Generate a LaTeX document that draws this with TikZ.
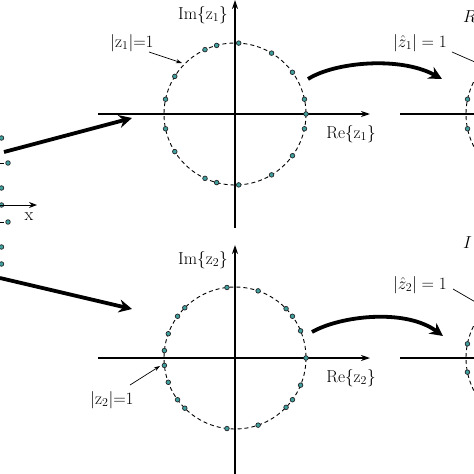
\documentclass[tikz,border=0pt]{standalone}
\usetikzlibrary{arrows.meta,calc}
\begin{document}
\begin{tikzpicture}[x=1pt,y=-1pt,
  axis/.style={line width=1.3pt,-{Stealth[length=9pt,width=6pt]}},
  plainaxis/.style={line width=1.3pt},
  unitc/.style={line width=0.9pt,dash pattern=on 4pt off 3pt},
  sig/.style={circle,draw=black!85,fill=teal!75,line width=0.7pt,inner sep=0pt,minimum size=4.6pt},
  bigarrow/.style={line width=3.8pt,-{Stealth[length=13pt,width=13pt]}},
  pointer/.style={line width=0.7pt,-{Stealth[length=6pt,width=4pt]}},
  plainpointer/.style={line width=0.7pt},
  lbl/.style={font=\fontsize{18}{21}\selectfont,inner sep=0pt}]
\useasboundingbox[fill=white] (0,0) rectangle (474,474);

% ---------- top plane ----------
\coordinate (c1) at (235,114);
\coordinate (h1s) at (98,114);  \coordinate (h1e) at (370,114);
\coordinate (v1s) at (235,228); \coordinate (v1e) at (235,0);
\draw[axis] (h1s) -- (h1e);
\draw[axis] (v1s) -- (v1e);
\draw[unitc] (c1) circle[radius=71];
\foreach \a [count=\i] in {0,12,36,59,87,105,115,148,168,-12,-36,-59,-87,-105,-115,-148,-168}
  \node[sig] (p1\i) at ($(c1)+(\a:71)$) {};
\node[lbl] (im1) at (203,15) {$\mathrm{Im}\{\mathrm{z}_1\}$};
\node[lbl] (re1) at (351,134) {$\mathrm{Re}\{\mathrm{z}_1\}$};
\node[lbl] (u1) at (132,43) {$|\mathrm{z}_1|{=}1$};
\coordinate (u1s) at (149,52);
\coordinate (u1t) at (182,63);
\draw[pointer] (u1s) -- (u1t);

% ---------- bottom plane ----------
\coordinate (c2) at (235,358);
\coordinate (h2s) at (98,358);  \coordinate (h2e) at (370,358);
\coordinate (v2s) at (235,474); \coordinate (v2e) at (235,245);
\draw[axis] (h2s) -- (h2e);
\draw[axis] (v2s) -- (v2e);
\draw[unitc] (c2) circle[radius=71];
\foreach \a [count=\i] in {0,22.5,36,44,71,96.5,135,144,160,174,-22.5,-36,-44,-71,-96.5,-135,-144,-160,-174}
  \node[sig] (p2\i) at ($(c2)+(\a:71)$) {};
\node[lbl] (im2) at (203,260) {$\mathrm{Im}\{\mathrm{z}_2\}$};
\node[lbl] (re2) at (351,378) {$\mathrm{Re}\{\mathrm{z}_2\}$};
\node[lbl] (u2) at (112,400) {$|\mathrm{z}_2|{=}1$};
\coordinate (u2s) at (130,385);
\coordinate (u2t) at (160,366);
\draw[pointer] (u2s) -- (u2t);

% ---------- right partial planes ----------
\coordinate (c3) at (537,114);
\coordinate (h3s) at (400,114); \coordinate (h3e) at (480,114);
\draw[plainaxis] (h3s) -- (h3e);
\draw[unitc] (c3) circle[radius=71];
\node[sig] (p31) at ($(c3)+(168:71)$) {};
\node[sig] (p32) at ($(c3)+(192:71)$) {};
\node[lbl] (u3) at (420,43) {$|\hat{z}_1| = 1$};
\coordinate (u3s) at (452,52);
\coordinate (u3t) at (484,66);
\draw[plainpointer] (u3s) -- (u3t);
\node[lbl,anchor=west] (t3) at (463,17) {$R$};

\coordinate (c4) at (537,358);
\coordinate (h4s) at (400,358); \coordinate (h4e) at (480,358);
\draw[plainaxis] (h4s) -- (h4e);
\draw[unitc] (c4) circle[radius=71];
\node[sig] (p41) at ($(c4)+(168.5:71)$) {};
\node[sig] (p42) at ($(c4)+(191.5:71)$) {};
\node[lbl] (u4) at (420,285) {$|\hat{z}_2| = 1$};
\coordinate (u4s) at (453,289);
\coordinate (u4t) at (484,307);
\draw[plainpointer] (u4s) -- (u4t);
\node[lbl,anchor=west] (t4) at (463,243) {$I$};

% ---------- left signal ----------
\foreach \y [count=\i] in {138,188,205,247,264}
  \node[sig] (s\i) at (1.5,\y) {};
\node[sig] (sa) at (8,163) {};
\node[sig] (sb) at (8,222) {};
\draw[line width=0.8pt] (0,163) -- (4,163);
\draw[line width=0.8pt] (0,222) -- (4,222);
\coordinate (xs) at (0,205); \coordinate (xe) at (37,205);
\draw[line width=1pt,-{Stealth[length=8pt,width=6pt]}] (xs) -- (xe);
\node[lbl] (xl) at (29,217) {x};

% ---------- big arrows ----------
\coordinate (a1s) at (4,152); \coordinate (a1e) at (132,118);
\draw[bigarrow] (a1s) -- (a1e);
\coordinate (a2s) at (0,278); \coordinate (a2e) at (132,309);
\draw[bigarrow] (a2s) -- (a2e);
\coordinate (b1s) at (308,79); \coordinate (b1e) at (442,79);
\draw[bigarrow] (b1s) .. controls (335,62) and (400,56) .. (b1e);
\coordinate (b2s) at (312,332); \coordinate (b2e) at (443,336);
\draw[bigarrow] (b2s) .. controls (340,316) and (405,308) .. (b2e);
\end{tikzpicture}
\end{document}
